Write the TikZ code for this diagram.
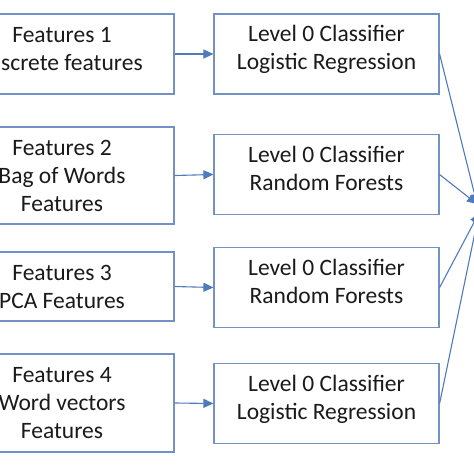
\documentclass[tikz,border=0pt]{standalone}
\usepackage{fontspec}
\setmainfont{Carlito}
\usetikzlibrary{arrows.meta}
\definecolor{boxline}{HTML}{7291C4}
\definecolor{arrowline}{HTML}{4F7BBE}
\definecolor{txt}{HTML}{1A1A1A}
\begin{document}
\begin{tikzpicture}[x=1pt,y=-1pt,
  featbox/.style={draw=boxline, line width=1.2pt, minimum width=224pt, inner sep=0pt},
  clfbox/.style={draw=boxline, line width=1.2pt, minimum width=225pt, minimum height=80pt, inner sep=0pt},
  lbl/.style={inner sep=0pt, align=center, text=txt, font=\fontsize{23.5}{28}\selectfont},
  conn/.style={draw=arrowline, line width=1.1pt, -{Triangle[length=10pt,width=9pt]}}]
\useasboundingbox (0,0) rectangle (474,474);
\clip (0,0) rectangle (474,474);
\fill[white] (0,0) rectangle (474,474);
\node[featbox, minimum height=80pt] (L1) at (62,54) {};
\node[featbox, minimum height=97pt] (L2) at (62,175.5) {};
\node[featbox, minimum height=69pt] (L3) at (62,286.5) {};
\node[featbox, minimum height=98pt] (L4) at (62,403) {};
\node[clfbox] (M1) at (326.5,54) {};
\node[clfbox] (M2) at (326.5,174.5) {};
\node[clfbox] (M3) at (326.5,287.5) {};
\node[clfbox] (M4) at (326.5,403.5) {};
\node[lbl] (L1t) at ([yshift=5pt]L1.center) {Features 1\\Discrete features};
\node[lbl] (L2t) at (L2.center) {Features 2\\Bag of Words\\Features};
\node[lbl] (L3t) at (L3.center) {Features 3\\PCA Features};
\node[lbl] (L4t) at (L4.center) {Features 4\\Word vectors\\Features};
\node[lbl] (M1t) at ([yshift=5pt]M1.center) {Level 0 Classifier\\Logistic Regression};
\node[lbl] (M2t) at ([yshift=6pt]M2.center) {Level 0 Classifier\\Random Forests};
\node[lbl] (M3t) at ([yshift=6pt]M3.center) {Level 0 Classifier\\Random Forests};
\node[lbl] (M4t) at ([yshift=4pt]M4.center) {Level 0 Classifier\\Logistic Regression};
\coordinate (Ta) at (477,204);
\coordinate (Tb) at (479,213);
\draw[conn] (L1.east) -- (M1.west);
\draw[conn] (L2.east) -- (M2.west);
\draw[conn] (L3.east) -- (M3.west);
\draw[conn] (L4.east) -- (M4.west);
\draw[conn] (M1.east) -- (Ta);
\draw[conn] (M2.east) -- (Ta);
\draw[conn] (M3.east) -- (Tb);
\draw[conn] (M4.east) -- (Tb);
\end{tikzpicture}
\end{document}
